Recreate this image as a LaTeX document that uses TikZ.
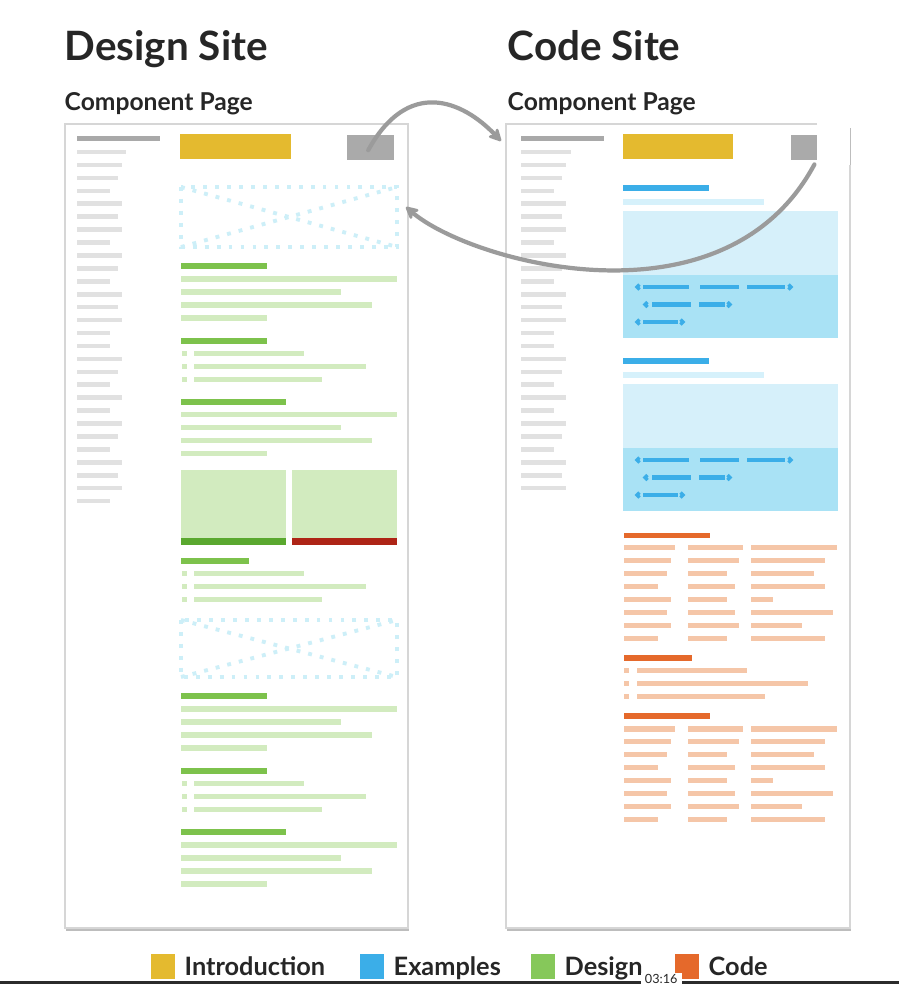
\documentclass[tikz,border=0pt]{standalone}
\usepackage{fontspec}
\setmainfont{Lato}
\usetikzlibrary{arrows.meta}

\definecolor{ink}{HTML}{262626}
\definecolor{pageline}{HTML}{D6D6D6}
\definecolor{pageshadow}{HTML}{BDBDBD}
\definecolor{sidedark}{HTML}{A9A9A9}
\definecolor{sidelight}{HTML}{E1E1E1}
\definecolor{thumbgray}{HTML}{AAAAAA}
\definecolor{introyellow}{HTML}{E4BA2F}
\definecolor{greenhead}{HTML}{7DC24C}
\definecolor{greenlight}{HTML}{D2EBBF}
\definecolor{greendark}{HTML}{5AA82F}
\definecolor{redbar}{HTML}{AE2416}
\definecolor{holdercyan}{HTML}{CDEFF8}
\definecolor{bluehead}{HTML}{3BAEE8}
\definecolor{bluelight}{HTML}{D6F1FB}
\definecolor{boxlight}{HTML}{D6F0FA}
\definecolor{boxdark}{HTML}{A9E2F5}
\definecolor{orangehead}{HTML}{E5692B}
\definecolor{orangelight}{HTML}{F5C6A8}
\definecolor{legendgreen}{HTML}{86C85A}
\definecolor{arrowgray}{HTML}{9B9B9B}
\definecolor{barink}{HTML}{2B2B2B}

\tikzset{
  page/.style={fill=white, draw=pageline, line width=0.6pt},
  sidehead/.style={draw=sidedark, line width=1.3pt},
  sidebar/.style={draw=sidelight, line width=1.3pt},
  thumb/.style={fill=thumbgray, inner sep=0pt, anchor=north west},
  ghead/.style={draw=greenhead, line width=1.6pt},
  gline/.style={draw=greenlight, line width=1.45pt},
  bhead/.style={draw=bluehead, line width=1.5pt},
  bline/.style={draw=bluelight, line width=1.5pt},
  token/.style={draw=bluehead, line width=1.3pt},
  chev/.style={draw=bluehead, line width=0.95pt},
  ohead/.style={draw=orangehead, line width=1.6pt},
  oline/.style={draw=orangelight, line width=1.45pt},
  holder/.style={draw=holdercyan, line width=1.1pt, dash pattern=on 1.1pt off 2.3pt},
  swaparrow/.style={draw=arrowgray, line width=1.2pt, line cap=round,
    -{Stealth[length=4.5pt, width=4.6pt, round]}},
  title/.style={font=\fontsize{11.5}{13}\selectfont\bfseries, text=ink,
    inner sep=0pt, anchor=base west},
  subtitle/.style={font=\fontsize{7}{8}\selectfont\bfseries, text=ink,
    inner sep=0pt, anchor=base west},
  legendtext/.style={font=\fontsize{7.2}{8}\selectfont\bfseries, text=ink,
    inner sep=0pt, anchor=base west},
  key/.style={inner sep=0pt, minimum width=0.24cm, minimum height=0.25cm, anchor=north west},
}

\newcommand\ltag[2]{\draw[chev] ({#1+1.5},{#2-2.5}) -- ({#1-1},#2) -- ({#1+1.5},{#2+2.5});}
\newcommand\rtag[2]{\draw[chev] ({#1-1.5},{#2-2.5}) -- ({#1+1},#2) -- ({#1-1.5},{#2+2.5});}

\begin{document}
\begin{tikzpicture}[x=0.01cm, y=-0.01cm]
  \useasboundingbox (0,0) rectangle (899,984);

  % Titles
  \node[title] (dtitle) at (64,60) {Design Site};
  \node[subtitle] (dsub) at (64,110) {Component Page};
  \node[title] (ctitle) at (507,60) {Code Site};
  \node[subtitle] (csub) at (507,110) {Component Page};

  % Draw the design page
  \fill[pageshadow] (66,128) rectangle (408.5,931);
  \draw[page] (65,124) rectangle (408,928);

  % Sidebar of the design page
  \draw[sidehead] (77,138.5) -- (160,138.5);
  \foreach \w [count=\i from 0] in {49,45,41,33,45,41,45,33,45,41,33,45,41,45,33,
      33,45,41,33,45,33,45,41,33,45,41,45,33}
    \draw[sidebar] (77,{152+12.93*\i}) -- ++(\w,0);

  % Intro bar and thumbnail
  \fill[introyellow] (180,134) rectangle (291,159);
  \node[thumb, minimum width=0.47cm, minimum height=0.25cm] (dthumb) at (346,134) {};

  % Image placeholders
  \foreach \top/\bot in {187/247, 620/677} {
    \draw[holder] (181,\top) rectangle (397,\bot);
    \draw[holder] (181,\top) -- (397,\bot);
    \draw[holder] (181,\bot) -- (397,\top);
  }

  % Text blocks
  \foreach \y/\hx in {266/267, 401.7/286, 696/267, 832/286} {
    \draw[ghead] (181,\y) -- (\hx,\y);
    \draw[gline] (181,{\y+13}) -- (397,{\y+13});
    \draw[gline] (181,{\y+26}) -- (341,{\y+26});
    \draw[gline] (181,{\y+39}) -- (372,{\y+39});
    \draw[gline] (181,{\y+52}) -- (267,{\y+52});
  }

  % Bullet blocks
  \foreach \y/\hx in {340.7/267, 560.7/249, 771/267} {
    \draw[ghead] (181,\y) -- (\hx,\y);
    \foreach \d/\e in {12.6/304, 25.6/366, 38.6/322} {
      \fill[greenlight] (182,{\y+\d-2.5}) rectangle (187,{\y+\d+2.5});
      \draw[gline] (194,{\y+\d}) -- (\e,{\y+\d});
    }
  }

  % Do and don't boxes
  \fill[greenlight] (181,470) rectangle (286,538);
  \fill[greenlight] (292,470) rectangle (397,538);
  \fill[greendark] (181,538) rectangle (286,545);
  \fill[redbar] (292,538) rectangle (397,545);

  % Draw the code page (corner hidden)
  \fill[pageshadow] (507,128) rectangle (850.5,931);
  \fill[white] (506,124) rectangle (850,928);
  \draw[page, fill=none] (817,124) -- (506,124) -- (506,928) -- (850,928) -- (850,165);

  % Sidebar of the code page
  \draw[sidehead] (521,138.5) -- (604,138.5);
  \foreach \w [count=\i from 0] in {50,45,41,33,45,41,45,33,45,41,33,45,41,45,33,
      33,45,41,33,45,33,45,41,33,45,41,45}
    \draw[sidebar] (521,{152+12.93*\i}) -- ++(\w,0);

  \fill[introyellow] (623,134) rectangle (733,159);
  \node[thumb, minimum width=0.26cm, minimum height=0.25cm] (cthumb) at (790,134) {};

  % Examples
  \foreach \o in {0,173} {
    \draw[bhead] (623,{188+\o}) -- (709,{188+\o});
    \draw[bline] (623,{202+\o}) -- (764,{202+\o});
    \fill[boxlight] (623,{211+\o}) rectangle (838,{275+\o});
    \fill[boxdark] (623,{275+\o}) rectangle (838,{338+\o});
    \draw[token] (643,{287+\o}) -- (689,{287+\o});
    \draw[token] (700,{287+\o}) -- (739,{287+\o});
    \draw[token] (747,{287+\o}) -- (785,{287+\o});
    \draw[token] (652,{304.5+\o}) -- (691,{304.5+\o});
    \draw[token] (699,{304.5+\o}) -- (725,{304.5+\o});
    \draw[token] (643,{322+\o}) -- (678,{322+\o});
    \ltag{638}{287+\o} \rtag{790}{287+\o}
    \ltag{646}{304.5+\o} \rtag{729}{304.5+\o}
    \ltag{638}{322+\o} \rtag{682}{322+\o}
  }

  % Code tables
  \foreach \ty/\hy in {547.7/535.5, 729/716} {
    \draw[ohead] (624,\hy) -- (710,\hy);
    \foreach \a/\b/\c [count=\i from 0] in {675/743/837, 671/739/825, 667/727/814,
        658/735/825, 671/727/773, 667/735/833, 671/739/802, 658/727/825} {
      \draw[oline] (624,{\ty+12.94*\i}) -- (\a,{\ty+12.94*\i});
      \draw[oline] (688,{\ty+12.94*\i}) -- (\b,{\ty+12.94*\i});
      \draw[oline] (751,{\ty+12.94*\i}) -- (\c,{\ty+12.94*\i});
    }
  }

  % Code bullets
  \draw[ohead] (624,657.7) -- (692,657.7);
  \foreach \by/\e in {670.7/747, 683.3/808, 696.3/765} {
    \fill[orangelight] (624,{\by-2.5}) rectangle (629,{\by+2.5});
    \draw[oline] (637,\by) -- (\e,\by);
  }

  % Arrows between the sites
  \coordinate (cin) at (501,141);
  \coordinate (din) at (406,207);
  \draw[swaparrow] ([xshift=-0.02cm, yshift=-0.03cm]dthumb.center)
    .. controls (408,78) and (462,100) .. (cin);
  \draw[swaparrow] ([xshift=-0.03cm, yshift=-0.04cm]cthumb.south east)
    .. controls (724,333) and (470,262) .. (din);

  % Legend
  \node[key, fill=introyellow] (ykey) at (150,953) {};
  \node[legendtext] (ylab) at (184,975) {Introduction};
  \node[key, fill=bluehead] (bkey) at (359,953) {};
  \node[legendtext] (blab) at (393,975) {Examples};
  \node[key, fill=legendgreen] (gkey) at (530,953) {};
  \node[legendtext] (glab) at (564,975) {Design};
  \node[key, fill=orangehead] (okey) at (674,953) {};
  \node[legendtext] (olab) at (708,975) {Code};

  % Player bar
  \fill[barink] (0,980.5) rectangle (899,984);
  \node[fill=white, inner sep=0pt, minimum width=0.41cm, minimum height=0.12cm,
    font=\fontsize{3.6}{4}\selectfont, text=ink, anchor=north west] (stamp) at (640,972.5) {03:16};
\end{tikzpicture}
\end{document}
